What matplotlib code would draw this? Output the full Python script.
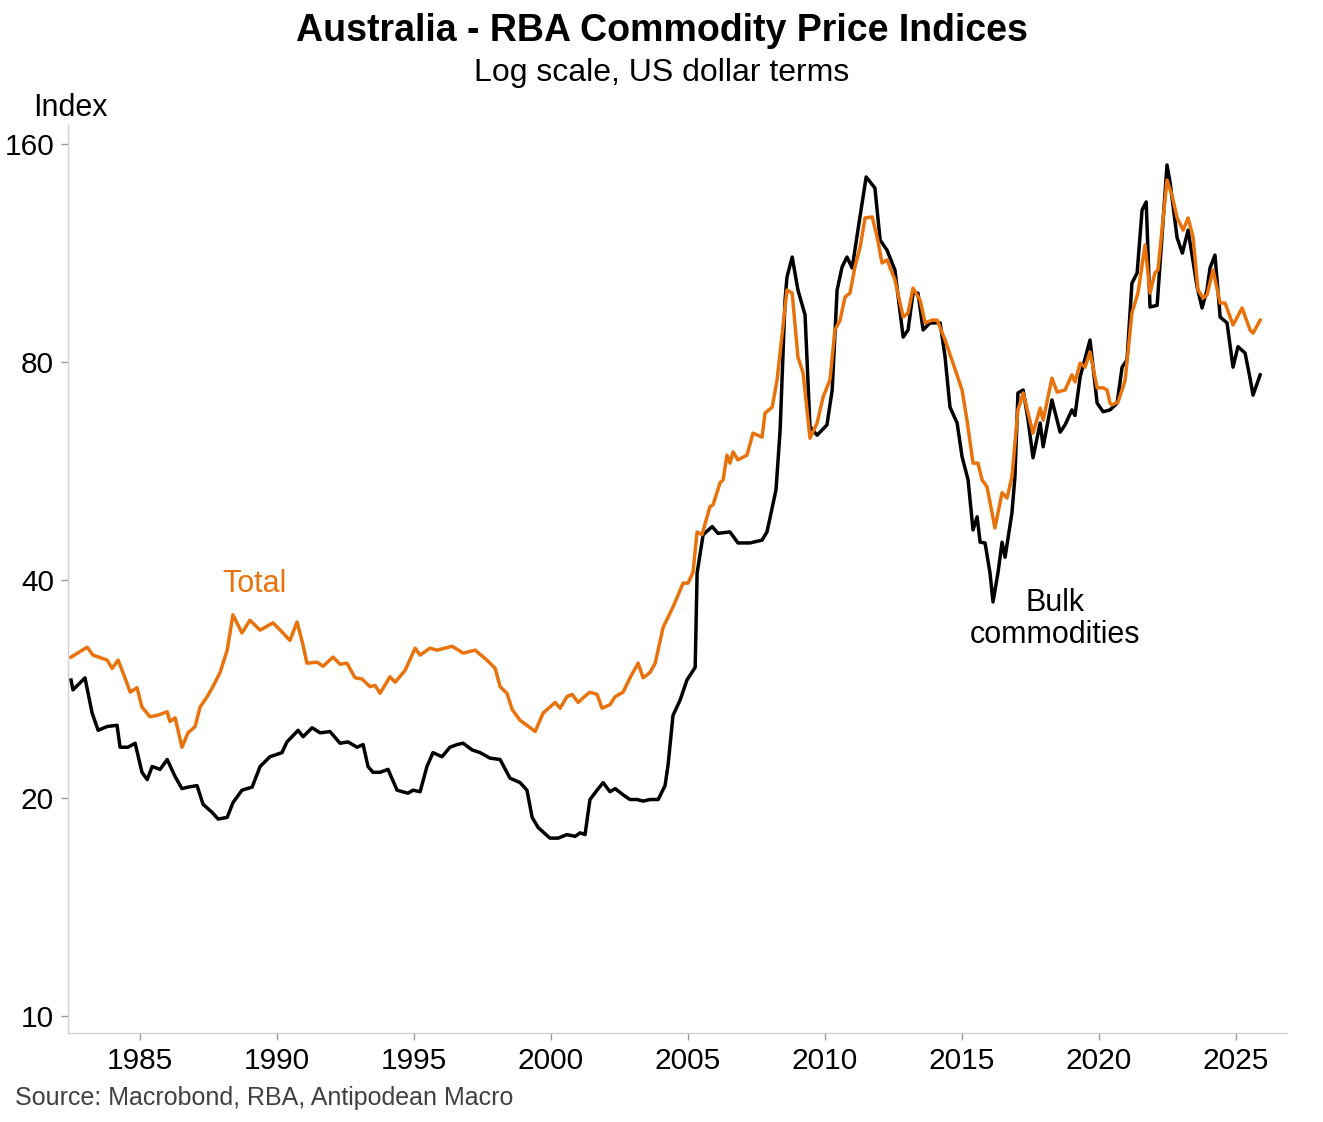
import matplotlib
matplotlib.use('Agg')
import matplotlib.pyplot as plt
from matplotlib.ticker import FixedLocator, NullLocator

plt.rcParams['font.family'] = ['Liberation Sans', 'DejaVu Sans']

# RBA index, total (decimal year, index value)
total_dates = [
    1982.48, 1983.07, 1983.28, 1983.80, 1983.98, 1984.20, 1984.45, 1984.64, 1984.89,
    1985.07, 1985.36, 1985.62, 1985.99, 1986.09, 1986.28, 1986.53, 1986.75, 1987.01,
    1987.19, 1987.45, 1987.66, 1987.92, 1988.18, 1988.39, 1988.72, 1989.01, 1989.38,
    1989.85, 1990.18, 1990.47, 1990.73, 1990.95, 1991.09, 1991.46, 1991.68, 1992.04,
    1992.30, 1992.55, 1992.85, 1993.10, 1993.39, 1993.58, 1993.76, 1994.12, 1994.31,
    1994.67, 1995.04, 1995.22, 1995.58, 1995.84, 1996.39, 1996.79, 1997.23, 1997.66,
    1997.96, 1998.14, 1998.39, 1998.58, 1998.87, 1999.12, 1999.42, 1999.71, 2000.15,
    2000.33, 2000.58, 2000.77, 2000.99, 2001.17, 2001.42, 2001.68, 2001.86, 2002.15,
    2002.34, 2002.63, 2002.88, 2003.18, 2003.36, 2003.61, 2003.80, 2004.09, 2004.45,
    2004.82, 2005.00, 2005.18, 2005.33, 2005.51, 2005.80, 2005.91, 2006.17, 2006.28,
    2006.42, 2006.53, 2006.64, 2006.82, 2007.15, 2007.37, 2007.70, 2007.81, 2008.07,
    2008.25, 2008.61, 2008.80, 2009.01, 2009.20, 2009.45, 2009.71, 2009.93, 2010.18,
    2010.36, 2010.55, 2010.73, 2010.91, 2011.09, 2011.28, 2011.46, 2011.72, 2011.90,
    2012.08, 2012.26, 2012.55, 2012.85, 2013.03, 2013.21, 2013.47, 2013.65, 2013.91,
    2014.09, 2014.38, 2014.67, 2015.00, 2015.18, 2015.40, 2015.58, 2015.73, 2015.91,
    2016.20, 2016.46, 2016.64, 2016.82, 2017.04, 2017.23, 2017.59, 2017.85, 2017.96,
    2018.28, 2018.47, 2018.76, 2019.01, 2019.12, 2019.31, 2019.49, 2019.67, 2019.93,
    2020.15, 2020.29, 2020.40, 2020.47, 2020.69, 2020.95, 2021.20, 2021.42, 2021.68,
    2021.86, 2022.04, 2022.15, 2022.48, 2022.66, 2022.85, 2023.07, 2023.25, 2023.43,
    2023.61, 2023.80, 2023.94, 2024.16, 2024.42, 2024.60, 2024.89, 2025.22, 2025.51,
    2025.62, 2025.88,
]
total_values = [
    31.3, 32.3, 31.5, 31.0, 30.2, 31.0, 29.3, 28.0, 28.4,
    26.7, 25.9, 26.0, 26.3, 25.5, 25.8, 23.5, 24.6, 25.1,
    26.7, 27.6, 28.5, 29.8, 32.0, 35.8, 33.8, 35.2, 34.1,
    34.9, 33.9, 33.0, 35.0, 32.5, 30.7, 30.8, 30.4, 31.3,
    30.6, 30.7, 29.3, 29.2, 28.5, 28.6, 27.9, 29.4, 28.9,
    30.0, 32.2, 31.5, 32.2, 32.0, 32.4, 31.7, 32.0, 31.0,
    30.2, 28.5, 27.9, 26.5, 25.6, 25.2, 24.7, 26.2, 27.1,
    26.6, 27.6, 27.8, 27.1, 27.5, 28.0, 27.8, 26.6, 26.9,
    27.6, 28.0, 29.3, 30.7, 29.3, 29.8, 30.7, 34.4, 36.7,
    39.6, 39.6, 41.0, 46.6, 46.2, 50.5, 50.8, 54.5, 55.0,
    59.5, 58.0, 60.1, 58.6, 59.5, 63.8, 63.0, 68.0, 69.3,
    75.6, 100.6, 99.6, 81.3, 77.2, 62.8, 65.9, 71.6, 75.6,
    88.6, 91.4, 98.4, 99.6, 108.2, 115.3, 126.5, 126.9, 119.1,
    109.6, 110.7, 103.9, 92.3, 93.5, 101.2, 97.4, 90.6, 91.4,
    91.4, 85.8, 79.7, 73.2, 66.5, 58.0, 58.0, 55.0, 53.8,
    47.2, 52.8, 51.9, 55.5, 68.7, 72.5, 63.8, 69.1, 66.5,
    76.0, 72.7, 73.2, 76.8, 75.1, 79.7, 78.7, 82.6, 73.7,
    73.7, 73.2, 70.2, 69.8, 70.4, 75.4, 93.5, 99.6, 116.1,
    99.6, 106.2, 107.2, 142.7, 136.0, 126.5, 121.7, 126.5, 119.1,
    100.6, 98.1, 99.0, 107.2, 96.5, 96.5, 90.0, 95.0, 88.6,
    87.7, 91.4,
]

# RBA index, bulk commodities
bulk_dates = [
    1982.48, 1982.55, 1982.99, 1983.25, 1983.47, 1983.80, 1984.16, 1984.27, 1984.56,
    1984.82, 1985.07, 1985.26, 1985.44, 1985.73, 1985.99, 1986.28, 1986.53, 1986.75,
    1987.08, 1987.30, 1987.63, 1987.85, 1988.18, 1988.39, 1988.72, 1989.09, 1989.38,
    1989.74, 1990.18, 1990.36, 1990.77, 1990.95, 1991.28, 1991.57, 1991.93, 1992.30,
    1992.59, 1992.92, 1993.14, 1993.32, 1993.50, 1993.76, 1994.05, 1994.38, 1994.78,
    1994.96, 1995.22, 1995.47, 1995.69, 1996.02, 1996.31, 1996.57, 1996.79, 1997.12,
    1997.41, 1997.77, 1998.14, 1998.50, 1998.87, 1999.12, 1999.31, 1999.53, 1999.96,
    2000.26, 2000.58, 2000.88, 2001.06, 2001.24, 2001.42, 2001.68, 2001.90, 2002.15,
    2002.34, 2002.63, 2002.88, 2003.14, 2003.36, 2003.61, 2003.91, 2004.16, 2004.27,
    2004.45, 2004.71, 2004.96, 2005.26, 2005.33, 2005.55, 2005.88, 2006.09, 2006.53,
    2006.82, 2007.26, 2007.70, 2007.88, 2007.99, 2008.21, 2008.36, 2008.54, 2008.61,
    2008.80, 2009.01, 2009.27, 2009.45, 2009.71, 2010.07, 2010.26, 2010.44, 2010.62,
    2010.80, 2010.99, 2011.20, 2011.50, 2011.82, 2012.01, 2012.26, 2012.55, 2012.85,
    2013.03, 2013.21, 2013.39, 2013.58, 2013.83, 2014.20, 2014.38, 2014.56, 2014.82,
    2015.00, 2015.22, 2015.40, 2015.55, 2015.66, 2015.84, 2016.02, 2016.13, 2016.31,
    2016.46, 2016.57, 2016.82, 2016.93, 2017.04, 2017.23, 2017.41, 2017.59, 2017.85,
    2017.96, 2018.28, 2018.58, 2018.76, 2019.01, 2019.12, 2019.31, 2019.67, 2019.93,
    2020.15, 2020.40, 2020.66, 2020.84, 2021.02, 2021.20, 2021.39, 2021.57, 2021.72,
    2021.86, 2022.12, 2022.48, 2022.59, 2022.85, 2023.04, 2023.25, 2023.58, 2023.76,
    2023.94, 2024.05, 2024.23, 2024.42, 2024.67, 2024.89, 2025.07, 2025.33, 2025.51,
    2025.62, 2025.88,
]
bulk_values = [
    29.1, 28.2, 29.3, 26.2, 24.8, 25.1, 25.2, 23.5, 23.5,
    23.8, 21.7, 21.2, 22.1, 21.9, 22.6, 21.4, 20.6, 20.7,
    20.8, 19.6, 19.1, 18.7, 18.8, 19.7, 20.5, 20.7, 22.1,
    22.8, 23.1, 23.9, 24.8, 24.3, 25.0, 24.6, 24.7, 23.8,
    23.9, 23.5, 23.7, 22.1, 21.7, 21.7, 21.9, 20.5, 20.3,
    20.5, 20.4, 22.1, 23.1, 22.8, 23.5, 23.7, 23.8, 23.3,
    23.1, 22.7, 22.6, 21.3, 21.0, 20.5, 18.8, 18.2, 17.6,
    17.6, 17.8, 17.7, 17.9, 17.8, 19.9, 20.5, 21.0, 20.4,
    20.6, 20.2, 19.9, 19.9, 19.8, 19.9, 19.9, 20.8, 22.2,
    26.0, 27.3, 29.1, 30.3, 40.9, 46.2, 47.4, 46.4, 46.6,
    45.0, 45.0, 45.4, 46.6, 48.7, 53.3, 64.4, 97.4, 104.8,
    111.7, 100.6, 92.9, 65.1, 63.4, 65.5, 73.2, 100.6, 108.2,
    111.7, 107.9, 121.7, 144.1, 139.1, 117.9, 114.2, 107.2, 86.6,
    88.6, 99.6, 99.6, 88.6, 90.6, 90.6, 81.3, 69.3, 65.9,
    59.2, 55.0, 46.9, 48.9, 45.1, 45.0, 40.9, 37.3, 40.9,
    45.1, 43.0, 49.5, 55.5, 72.5, 73.2, 66.5, 59.0, 65.9,
    61.1, 70.9, 64.0, 65.5, 68.7, 67.5, 76.3, 85.8, 70.2,
    68.3, 68.7, 70.2, 78.7, 80.5, 102.8, 106.2, 129.7, 133.1,
    95.3, 95.8, 149.7, 141.8, 118.7, 113.1, 121.7, 101.5, 95.0,
    100.6, 107.9, 112.4, 92.3, 90.6, 78.7, 84.0, 82.3, 76.0,
    72.0, 76.8,
]

y_ticks = [10, 20, 40, 80, 160]
x_ticks = [1985, 1990, 1995, 2000, 2005, 2010, 2015, 2020, 2025]

ORANGE = '#E8720C'
GREY = '#d0d0d0'

fig = plt.figure(figsize=(13.23, 11.22), dpi=100)
ax = fig.add_axes([0.0514, 0.0793, 0.9214, 0.8093])

ax.plot(bulk_dates, bulk_values, color='black', lw=2.5, solid_joinstyle='round')
ax.plot(total_dates, total_values, color=ORANGE, lw=2.5, solid_joinstyle='round')

ax.set_yscale('log')
ax.set_ylim(9.47, 170)
ax.set_xlim(1982.37, 2026.86)
ax.yaxis.set_major_locator(FixedLocator(y_ticks))
ax.yaxis.set_minor_locator(NullLocator())
ax.set_yticklabels([str(t) for t in y_ticks])
ax.set_xticks(x_ticks)
ax.set_xticklabels([str(t) for t in x_ticks])

for side in ['top', 'right']:
    ax.spines[side].set_visible(False)
for side in ['left', 'bottom']:
    ax.spines[side].set_color(GREY)
    ax.spines[side].set_linewidth(1.0)
ax.tick_params(axis='both', which='major', labelsize=21.5, length=5, width=1,
               color='#999999', pad=5)

ax.text(1989.16, 39.5, 'Total', color=ORANGE, fontsize=22, ha='center', va='center')
ax.text(2018.4, 35.3, 'Bulk\ncommodities', color='black', fontsize=22,
        ha='center', va='center', linespacing=1.1)

fig.text(0.5, 0.972, 'Australia - RBA Commodity Price Indices', fontsize=27,
         fontweight='bold', ha='center', va='center')
fig.text(0.5, 0.935, 'Log scale, US dollar terms', fontsize=23, ha='center', va='center')
fig.text(0.025, 0.904, 'Index', fontsize=22, ha='left', va='center')
fig.text(0.011, 0.021, 'Source: Macrobond, RBA, Antipodean Macro', fontsize=18,
         color='#404040', ha='left', va='center')

fig.savefig('out.png', dpi=100)
